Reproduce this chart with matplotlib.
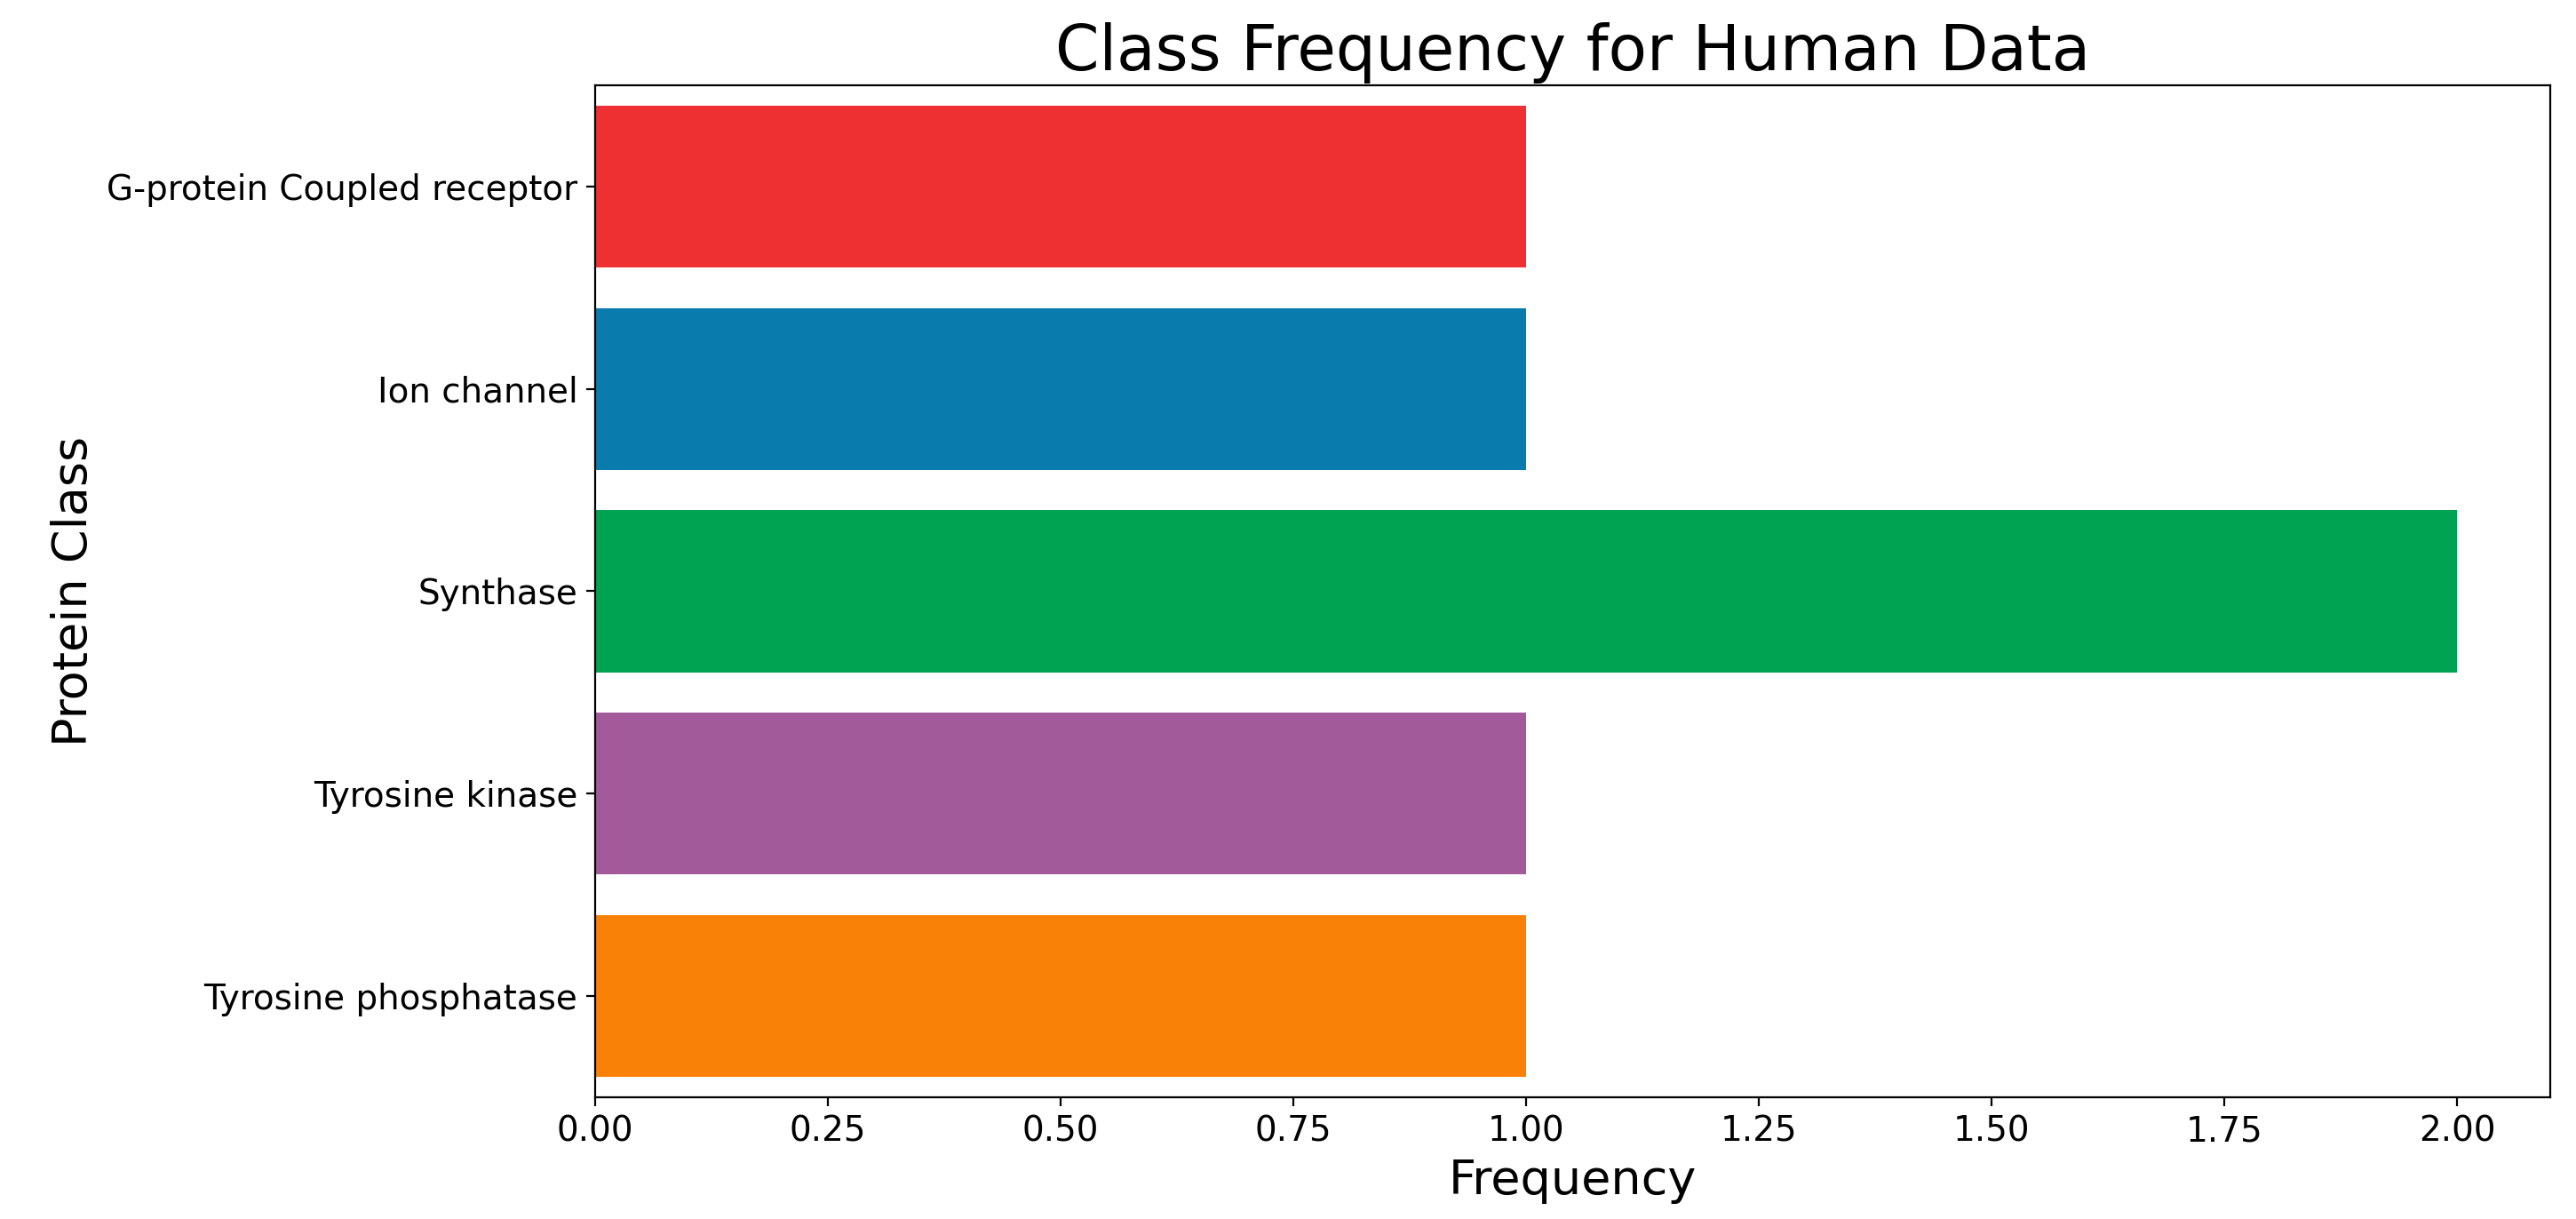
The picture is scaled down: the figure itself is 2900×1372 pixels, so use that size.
import matplotlib
matplotlib.use("Agg")
import matplotlib.pyplot as plt

categories = ["G-protein Coupled receptor", "Ion channel", "Synthase", "Tyrosine kinase", "Tyrosine phosphatase"]
counts = [1, 1, 2, 1, 1]
colors = ["#EE3033", "#0A7BAD", "#00A351", "#A25A9A", "#F98107"]

fig = plt.figure(figsize=(14.5, 6.86), dpi=200)
ax = fig.add_axes([0.231, 0.100, 0.759, 0.830])
ax.barh(categories, counts, color=colors)
ax.set_ylim(len(categories) - 0.5, -0.5)
ax.set_xticks([0, 0.25, 0.5, 0.75, 1.0, 1.25, 1.5, 1.75, 2.0])
ax.tick_params(labelsize=14)
ax.set_title("Class Frequency for Human Data", fontsize=25.5)
ax.set_xlabel("Frequency", fontsize=19.5)
ax.set_ylabel("Protein Class", fontsize=19.5)
fig.savefig("out.png", dpi=200)
